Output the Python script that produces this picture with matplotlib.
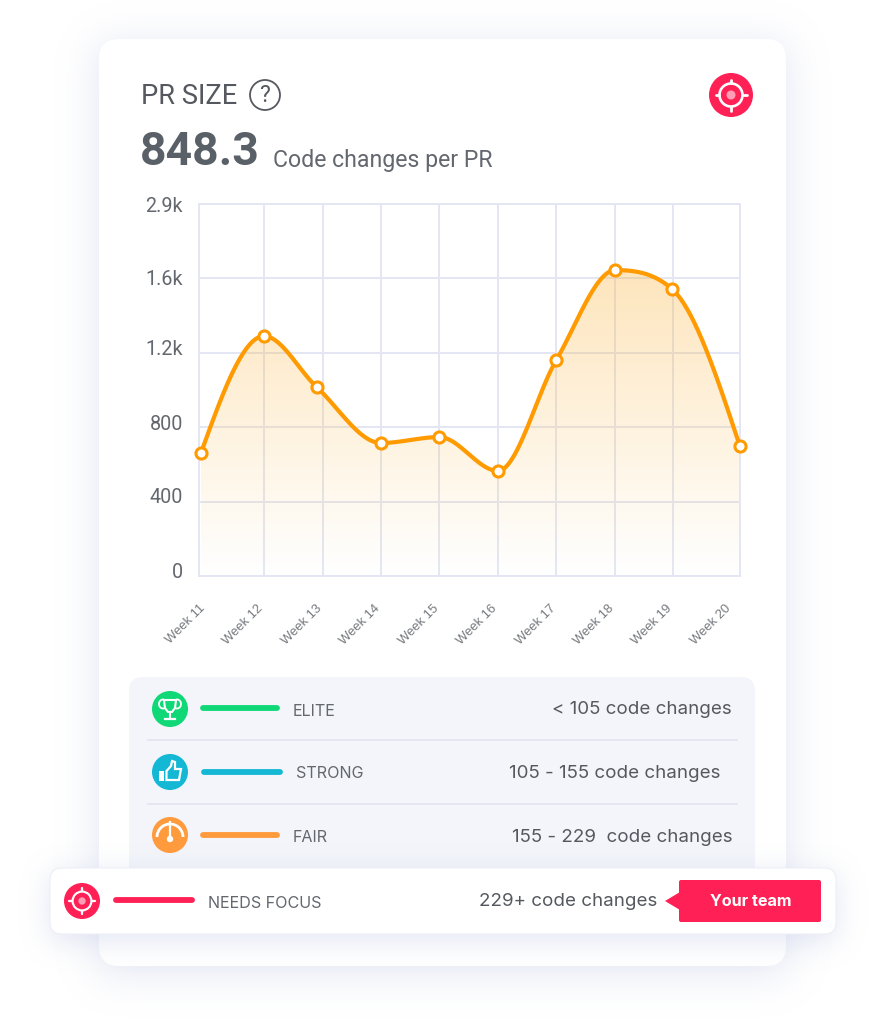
import matplotlib
matplotlib.use("Agg")
import matplotlib.pyplot as plt
import numpy as np
from matplotlib.patches import Circle, FancyBboxPatch, Polygon, Arc
from matplotlib.transforms import ScaledTranslation

plt.rcParams['font.family'] = ['Roboto', 'DejaVu Sans']

# Chart values
weeks = ["Week 11", "Week 12", "Week 13", "Week 14", "Week 15",
         "Week 16", "Week 17", "Week 18", "Week 19", "Week 20"]
week_pos = [-0.08, 1, 1.9, 3, 4, 5, 6, 7.01, 7.98, 9.14]
pr_size = [661, 1290, 1016, 715, 747, 565, 1161, 1745, 1543, 699]
y_ticks = [0, 400, 800, 1200, 1600, 2900]
y_labels = ["0", "400", "800", "1.2k", "1.6k", "2.9k"]
y_label_shift = [6, 6, 5, 5, 1, -1]

# Benchmark tiers
tiers = ["ELITE", "STRONG", "FAIR", "NEEDS FOCUS"]
tier_ranges = ["< 105 code changes", "105 - 155 code changes",
               "155 - 229  code changes", "229+ code changes"]
tier_colors = ["#10D876", "#14B8D4", "#FF9A3D", "#FF2055"]

TEXT = "#63676E"
DARK = "#55595F"
GRID = "#E4E7F3"
RED = "#FF2055"
ORANGE = "#FF9A00"


# Scale that gives every y tick the same height, as the chart does.
def y_forward(v):
    return np.interp(v, y_ticks, np.arange(len(y_ticks)))


def y_inverse(s):
    return np.interp(s, np.arange(len(y_ticks)), y_ticks)


# Cubic through the weekly values, flat at turning points, this is how the line is smoothed.
def smooth_curve(xs, ys, steps=40):
    xs = np.array(xs, dtype=float)
    ys = np.array(ys, dtype=float)
    h = np.diff(xs)
    d = np.diff(ys) / h
    m = np.zeros(len(xs))
    for i in range(1, len(xs) - 1):
        if d[i - 1] * d[i] > 0:
            m[i] = np.sign(d[i]) * np.sqrt(d[i - 1] * d[i])
    m[0] = (3 * d[0] - m[1]) / 2
    m[-1] = (3 * d[-1] - m[-2]) / 2
    out_x, out_y = [], []
    for i in range(len(h)):
        t = np.linspace(0, 1, steps)
        out_x.append(xs[i] + t * h[i])
        out_y.append((2*t**3 - 3*t**2 + 1) * ys[i] + (t**3 - 2*t**2 + t) * h[i] * m[i]
                     + (-2*t**3 + 3*t**2) * ys[i + 1] + (t**3 - t**2) * h[i] * m[i + 1])
    return np.concatenate(out_x), np.concatenate(out_y)


def rounded(ax, x0, y0, x1, y1, r, **kw):
    p = FancyBboxPatch((x0 + r, y0 + r), x1 - x0 - 2 * r, y1 - y0 - 2 * r,
                       boxstyle="round,pad=%f,rounding_size=%f" % (r, r), **kw)
    ax.add_patch(p)
    return p


# Blurred box as an image, used for the soft card shadows
def shadow(ax, x0, y0, x1, y1, sigma, strength, dy, zorder):
    r = int(sigma * 3)
    kernel = np.exp(-0.5 * (np.arange(-r, r + 1) / sigma) ** 2)
    kernel /= kernel.sum()
    px = np.convolve(((np.arange(884) >= x0) & (np.arange(884) < x1)).astype(float), kernel, mode="same")
    py = np.convolve(((np.arange(1024) >= y0 + dy) & (np.arange(1024) < y1 + dy)).astype(float), kernel, mode="same")
    img = np.zeros((1024, 884, 4))
    img[:, :, :3] = matplotlib.colors.to_rgb("#BCC4E4")
    img[:, :, 3] = np.outer(py, px) * strength
    ax.imshow(img, extent=(0, 884, 1024, 0), aspect="auto", interpolation="bilinear", zorder=zorder)


def target_icon(ax, cx, cy, r):
    k = r / 22.0
    ax.add_patch(Circle((cx, cy), r, fc=RED, ec="none", zorder=6))
    ax.add_patch(Circle((cx, cy), 11.5 * k, fc="none", ec="white", lw=1.9 * k, zorder=7))
    ax.add_patch(Circle((cx, cy), 4.5 * k, fc="#FF9DB5", ec="none", zorder=7))
    for dx, dy in [(1, 0), (-1, 0), (0, 1), (0, -1)]:
        ax.plot([cx + dx * 12 * k, cx + dx * 15.5 * k], [cy + dy * 12 * k, cy + dy * 15.5 * k],
                color="white", lw=2.0 * k, solid_capstyle="round", zorder=7)


def trophy_icon(ax, cx, cy):
    ax.add_patch(Circle((cx, cy), 18, fc=tier_colors[0], ec="none", zorder=6))
    ax.add_patch(Polygon([(cx - 6, cy - 9), (cx + 6, cy - 9), (cx + 5, cy - 1), (cx + 2, cy + 3),
                          (cx - 2, cy + 3), (cx - 5, cy - 1)], closed=True,
                         fc="none", ec="white", lw=1.5, zorder=7))
    ax.add_patch(Arc((cx - 7, cy - 5), 8, 9, theta1=60, theta2=280, ec="white", lw=1.3, zorder=7))
    ax.add_patch(Arc((cx + 7, cy - 5), 8, 9, theta1=-100, theta2=120, ec="white", lw=1.3, zorder=7))
    ax.plot([cx, cx], [cy + 3, cy + 9], color="white", lw=1.5, zorder=7)
    ax.plot([cx - 5, cx + 5], [cy + 10, cy + 10], color="white", lw=1.6, zorder=7)


def thumb_icon(ax, cx, cy):
    ax.add_patch(Circle((cx, cy), 18, fc=tier_colors[1], ec="none", zorder=6))
    ax.add_patch(Polygon([(cx - 11, cy - 1), (cx - 6.5, cy - 1), (cx - 6.5, cy + 9), (cx - 11, cy + 9)],
                         closed=True, fc="white", ec="none", zorder=7))
    ax.add_patch(Polygon([(cx - 3.5, cy - 1), (cx + 1, cy - 6), (cx + 2, cy - 11), (cx + 5, cy - 10),
                          (cx + 5, cy - 3), (cx + 11, cy - 3), (cx + 9, cy + 8), (cx - 3.5, cy + 8)],
                         closed=True, fc="none", ec="white", lw=1.6, zorder=7))


def gauge_icon(ax, cx, cy):
    ax.add_patch(Circle((cx, cy), 18, fc=tier_colors[2], ec="none", zorder=6))
    # y axis is flipped here, so the arc over the dot runs through 180 to 360
    ax.add_patch(Arc((cx, cy + 2), 26, 26, theta1=180, theta2=360, ec="white", lw=2.0, zorder=7))
    ax.plot([cx, cx], [cy - 13, cy + 3], color="white", lw=1.6, zorder=7)
    ax.add_patch(Circle((cx, cy + 4), 3.2, fc="white", ec="none", zorder=7))


fig = plt.figure(figsize=(8.84, 10.24), dpi=100, facecolor="white")

# Page in pixel coordinates, for the cards, icons and texts
bg = fig.add_axes([0, 0, 1, 1], zorder=0)
shadow(bg, 99, 39, 786, 966, 20, 0.42, 6, 1)
rounded(bg, 99, 39, 786, 966, 20, fc="white", ec="none", zorder=2)
rounded(bg, 129, 677, 755, 900, 14, fc="#F3F5FA", ec="none", zorder=3)
bg.plot([148, 737], [740, 740], color="#E2E5EF", lw=1.2, zorder=4)
bg.plot([148, 737], [804, 804], color="#E2E5EF", lw=1.2, zorder=4)
shadow(bg, 50, 868, 836, 934, 14, 0.42, 6, 4)
rounded(bg, 50, 868, 836, 934, 12, fc="white", ec="#EDEFF7", lw=0.8, zorder=5)
bg.set_xlim(0, 884)
bg.set_ylim(1024, 0)
bg.axis("off")

bg.text(141, 97, "PR SIZE", fontsize=19.6, color=DARK, va="center", zorder=6)
bg.add_patch(Circle((265, 95), 15, fc="none", ec=DARK, lw=1.3, zorder=6))
bg.text(265, 96, "?", fontsize=16.5, color=DARK, ha="center", va="center", zorder=6)
bg.text(140, 152, "848.3", fontsize=33.3, color="#5A6068", fontweight="bold", va="center", zorder=6)
bg.text(273, 161, "Code changes per PR", fontsize=16.7, color=TEXT, va="center", zorder=6)
target_icon(bg, 731, 95, 22)

# Tier rows
icon_y = [709, 772, 835, 901]
line_x = [(203, 277), (204, 280), (203, 277), (116, 192)]
line_y = [708, 772, 835, 900]
name_x = [293, 296, 293, 208]
name_y = [711, 774, 838, 903]
range_x = [732, 720, 733, 657]
range_y = [710, 773, 837, 902]
trophy_icon(bg, 170, icon_y[0])
thumb_icon(bg, 170, icon_y[1])
gauge_icon(bg, 170, icon_y[2])
target_icon(bg, 82, icon_y[3], 18)
for i in range(len(tiers)):
    bg.plot(line_x[i], [line_y[i], line_y[i]], color=tier_colors[i], lw=4.2,
            solid_capstyle="round", zorder=6)
    bg.text(name_x[i], name_y[i], tiers[i], family=["Inter", "DejaVu Sans"], fontsize=11.6,
            color=TEXT, va="center", zorder=6)
    bg.text(range_x[i], range_y[i], tier_ranges[i], family=["Inter", "DejaVu Sans"], fontsize=13.5,
            color=DARK, ha="right", va="center", zorder=6)

# Your team badge
rounded(bg, 679, 880, 821, 922, 2, fc=RED, ec="none", zorder=6)
bg.add_patch(Polygon([(665, 901), (680, 892), (680, 910)], closed=True, fc=RED, ec="none", zorder=6))
bg.text(751, 902, "Your team", family=["Inter", "DejaVu Sans"], fontsize=11.6, color="white",
        fontweight="bold", ha="center", va="center", zorder=7)

# Chart area, from 199 to 740 across and 204 to 576 down
ax = fig.add_axes([199 / 884, 1 - 576 / 1024, 541 / 884, 372 / 1024], zorder=1)
ax.patch.set_alpha(0)
ax.set_yscale("function", functions=(y_forward, y_inverse))
ax.set_xlim(-0.113, 9.143)
ax.set_ylim(0, 2900)
ax.set_axisbelow(True)

ax.set_yticks(y_ticks)
ax.set_yticklabels(y_labels, fontsize=14.2, color=TEXT)
ax.set_xticks(range(len(weeks)))
ax.set_xticklabels(weeks, fontsize=9.4, color="#75797F", rotation=45, ha="right",
                   rotation_mode="anchor", family=["Liberation Sans", "DejaVu Sans"])
ax.tick_params(axis="y", length=0, pad=11.5)
ax.tick_params(axis="x", length=0, pad=19)
ax.minorticks_off()
ax.grid(True, color=GRID, lw=1.4)
for t in ax.get_xticklabels():
    t.set_transform(t.get_transform() + ScaledTranslation(-7 / 100, 0, fig.dpi_scale_trans))
xt = ax.xaxis.get_major_ticks()
xt[0].gridline.set_visible(False)
xt[-1].gridline.set_visible(False)
for s in ax.spines.values():
    s.set_color(GRID)
    s.set_linewidth(1.4)
for t, dy in zip(ax.get_yticklabels(), y_label_shift):
    t.set_transform(t.get_transform() + ScaledTranslation(0, dy / 100, fig.dpi_scale_trans))

cx, cy = smooth_curve(week_pos, y_forward(np.array(pr_size)))
cv = y_inverse(cy)

# Fill under the line fades from the peak down to the axis
grad_y = np.linspace(0, 1800, 120)
grad_x = np.array([week_pos[0], week_pos[-1]])
rgba = np.zeros((len(grad_y) - 1, 1, 4))
rgba[:, :, :3] = matplotlib.colors.to_rgb("#FBA81E")
rgba[:, :, 3] = np.linspace(0.0, 0.32, len(grad_y) - 1)[:, None]
area = ax.fill_between(cx, cv, 0, color="none", lw=0)
mesh = ax.pcolormesh(grad_x, grad_y, rgba, shading="flat", zorder=2)
mesh.set_clip_path(area.get_paths()[0], ax.transData)

ax.plot(cx, cv, color=ORANGE, lw=3.0, zorder=3, clip_on=False, solid_capstyle="round")
ax.plot(week_pos, pr_size, "o", color=ORANGE, mfc="white", mew=2.2, ms=8, zorder=4, clip_on=False)

fig.savefig("out.png", dpi=100)
